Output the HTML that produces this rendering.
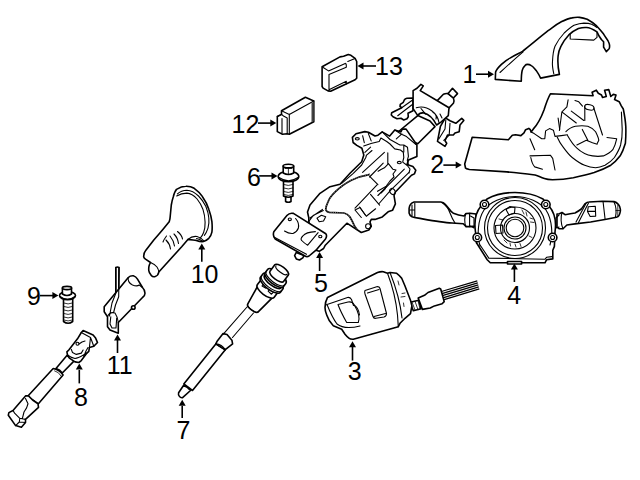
<!DOCTYPE html>
<html><head><meta charset="utf-8"><style>
html,body{margin:0;padding:0;background:#fff;width:640px;height:480px;overflow:hidden}
svg{position:absolute;left:0;top:0}
text{font-family:"Liberation Sans",sans-serif;font-size:25px;fill:#000}
.o{fill:#fff;stroke:#000;stroke-width:1.6;stroke-linejoin:round;stroke-linecap:round}
.l{fill:none;stroke:#000;stroke-width:1.1;stroke-linejoin:round;stroke-linecap:round}
.t{fill:none;stroke:#000;stroke-width:0.8;stroke-linecap:round}
.a{stroke:#000;stroke-width:1.6;fill:none}
</style></head><body>
<svg width="640" height="480" viewBox="0 0 640 480">

<!-- part 13 -->
<g id="p13">
<path class="o" d="M322.1 66.8L340 56.9L343.6 56.3L348.3 54.5L350.9 55.3L355.1 58.4L356.7 61.5V78.2L355.1 79.8L330.6 91.2L328 90.9L323.1 88.1L322.1 86.5Z"/>
<path class="l" d="M322.8 67.3L328.5 70.9L345.2 63.4Q346.6 63.8 346.3 65.5V67.3L329 74.6V90.7M347.8 61.5L355 58.6M329 89.7L346.3 81.3V84"/>
</g>
<!-- part 12 -->
<g id="p12">
<path class="o" d="M277.3 116.5L281.5 114.4V110.8L305.4 97.2L313.8 100.9V121.7L289.3 134.2L287.2 133.7L282.5 134.2L277.3 131.6Z"/>
<path class="l" d="M281.5 110.8L289.3 114.4L311.1 102.4L313.8 100.9M289.3 114.4V134.2M277.3 116.5L281.5 114.4L283.5 116L287.2 118V133.7M282 118.5V133"/>
<path d="M311.5 103L313.8 101.5V121.2L311.5 122.3Z" fill="#444"/>
</g>
<!-- bolt 6 -->
<g id="b6">
<path class="o" d="M285.6 196V201.5Q288.3 203 291 201.5V196Z"/>
<path class="o" d="M283.5 180H293V196Q288.3 198.5 283.5 196Z"/>
<path class="t" d="M283.5 184.5Q288.3 186.5 293 184.5M283.5 188Q288.3 190 293 188M283.5 191.5Q288.3 193.5 293 191.5M283.5 194.5Q288.3 196.5 293 194.5"/>
<ellipse class="o" cx="288.5" cy="176.5" rx="10.3" ry="5.2"/>
<path class="l" d="M279 177.5Q288.5 184 298 177.5"/>
<path class="o" d="M283.2 166V173Q288.4 176 293.7 173V166Z"/>
<ellipse class="o" cx="288.4" cy="166" rx="5.2" ry="1.8"/>
<path class="t" d="M285 168.5H292M288.4 168.5V174"/>
</g>
<!-- bolt 9 -->
<g id="b9">
<path class="o" d="M63.5 299H72.7V321.5Q68.1 325 63.5 321.5Z"/>
<path class="t" d="M63.5 303Q68.1 305 72.7 303M63.5 306.5Q68.1 308.5 72.7 306.5M63.5 310Q68.1 312 72.7 310M63.5 313.5Q68.1 315.5 72.7 313.5M63.5 317Q68.1 319 72.7 317M63.5 320Q68.1 322 72.7 320"/>
<ellipse class="o" cx="67.5" cy="295.6" rx="8" ry="4"/>
<path class="l" d="M60 296.5Q67.5 302 75 296.5"/>
<path class="o" d="M62.4 288V294Q67 297 71.5 294V288Z"/>
<ellipse class="o" cx="67" cy="288" rx="4.6" ry="1.6"/>
</g>

<!-- part 1 -->
<g id="p1">
<path class="o" d="M495.3 79.4L495.6 71.9C497 68 505 60.5 510 58.1C516 54.5 520 53 522.5 51.3C528 47 540 37 548.1 30.6C552 28 556 24.5 560.9 22C565 20 568 18.5 571.9 17.9C575 17.3 577 17.2 579.5 17.4C582 17.7 585 18.5 587.2 19.3C591 21.5 594 23.5 596 25.3C599 28.5 602 32 603.6 34.1C606 38 608 40.5 608.5 41.7C609.3 43.5 609.7 45 609.6 46.1C609.6 47.5 609.5 48.3 609.1 48.8L606.3 51.6L603.6 47.2V41.7L601.4 39.5L599.2 36.3L597 31.9C592 28.5 589 27.3 586.1 27.5C583 27.3 581 27.8 578.4 28.6C574 30.5 571 33 568.6 35.2C565 39 562.5 43 561 46.1C559.5 49 558.3 53 558.1 56C557.5 62 558 68 559.4 74.4L540.6 78.1C539 74.5 537.5 72.3 536.3 70.6C534 68 533 66.5 531.3 65.6C530 64.8 528.5 64.4 527.5 64.4C526.5 64.4 525.5 65 525 65.6C523.5 67 522.6 68.5 522.3 70C521.5 73 521.3 77 521.3 81.3Z"/>
<path class="l" d="M500 72.5C507 66 516 58 523.1 51.9"/>
<path class="l" d="M553.8 73.8C552.5 68 552.2 64 552.5 61.3C552.8 55 553.5 50 555 46.3C557.5 41 560.5 37 564.2 33C568 29.5 571 27 574 25.3C578 23.8 581 23.2 583.9 23.1C587 23.2 589.5 23.5 591.6 24.2C594 25.3 595.5 26.3 597 27.5"/>
<path class="l" d="M570.2 33.6V39L593.8 40.1L597 37.4V32.3"/>
</g>
<!-- part 2 -->
<g id="p2">
<path class="o" d="M472.2 137.2L508.4 139.8L512.3 135.2L515.5 134.7L520.9 135.6L524 132.8L525.6 129.7L528.8 128.4L530.3 129.7L531.1 132L533.4 128.9C537 125 541 118 544 110C546.5 102 548.5 97 550.4 93.8L593.1 95.8L592.1 92.3L596.3 90.2L598.3 93.3L601.5 95L602.5 97.5L606.3 96.5L604.6 90.2L608.8 89.6L610.8 96.5L613.3 94.4L616 95L614.6 99.6L619.2 101.7L621.3 105.8L623.3 109C624.5 115 625.5 121 625.8 126.7C626 132 625.8 138 625.4 143.3C624 148 622.5 152 620.2 155.8C617 160 614 163 610.8 165.2C605 168.5 600 170.5 594.2 172.5C587 174.8 580 176.3 573.3 177.7C566 179 559 179.6 552.5 179.8C548 179.8 546 179.2 544.4 178.6C540 177 537 175.5 535 175C520 173 512 172.3 506.9 171.9L469.4 169.5C467 169 465.8 168.5 465.5 168L464.7 164Z"/>
<path class="l" d="M531.1 132L534.2 133.6L541.7 138.8H544.8L545.6 130.9L549.5 128.6L553.4 130.2L555 136.4L561.3 135.6L567.5 134.8"/>
<path class="l" d="M530 138.8L534.7 149.7M530 155.9L550.3 155.2L552.7 158.3L555 170M530.8 157.5Q532 164 534.7 166.9L542.5 169.2"/>
<path class="l" d="M557.3 137.2C559 141 560.5 144 562.8 146.6C566 151 569 155 572.2 157.5C576 160.5 580 163.5 584.7 165.3C588 166.8 592 167.7 595.6 167.7C599 167.5 602 166.5 605 165.3C609 163 612 160.5 614.4 157.5C617 153.5 619.5 149 620.6 145C621.8 140 622.3 134 622.2 129.4L621.4 112"/>
<path class="l" d="M567.5 135.6C570 140 573 145 576.9 148.1C581 152 587 155 592.5 155.9C596 156.5 600 156.5 603.4 155.9C607 154.5 610.5 152.5 612.8 149.7C615 146 616 142 616.7 138.8L607 137.5"/>
<path class="l" d="M565.9 131.7C568.5 129 571.5 127 575.3 126.3C580 125.5 584 125.5 587.8 126.3C591 127.5 594 129.5 595.6 131.7C597 134.5 598.5 137.5 598.8 140.3L597.2 143.4"/>
<path class="l" d="M582.3 129.4L587.8 140.3M576.9 145L586.3 140.3L592.5 142.7L597.2 144.2"/>
<path class="l" d="M558.1 118L559.7 129.4M584.8 106V120.4M593.8 108L602.5 135"/>
<ellipse class="l" cx="589.3" cy="107.3" rx="4.8" ry="2.6" transform="rotate(15 589.3 107.3)"/>
<path class="l" d="M568.1 99.9L566.9 106.8L561.9 111.8L559.4 130.5M562.5 112.4L576.3 123M571.3 111.1L583.8 120.5M575 100.5L578.8 101.8L582.5 106.1"/>
</g>

<!-- part 4 -->
<g id="p4">
<!-- left stalk -->
<path class="o" d="M409.1 208.3C409.5 205 411.5 202.8 414.1 202H440.8C442.5 202.3 444 203 445 204.1C446.5 205.5 448 207.5 449.2 209C450.5 211 452 212.5 453.4 213.2C457 214.8 461 215.7 464 216L466 213.5L470 213.2L476 214L476 226L470.3 226.6L466.1 226.6L463.3 223.8L452 223C448 222.7 444 222.2 439.4 221.6C432 220.7 425 219.3 418.3 218.1C415.5 217.6 413.5 217.2 412 216.7C410.3 215.8 409.3 214.5 409.1 213.2Z"/>
<path class="l" d="M414.8 203V217.3M410 210H414.5M412 205V216M442 202.5C447 206 449 210 450 213C451.5 217 453 220 455 223M466.1 213.5C464.5 216 464 223 466.1 226.6M469.6 213.2V226.6"/>
<!-- right stalk -->
<path class="o" d="M557 214L559.4 213.8L562 212.5L565 214.7C569 213.8 572 213.3 575 213C578 211.5 580 210 581.3 209C583 207 584 205 585.2 203.6C586.5 202.5 588 202 589 202L602.3 201.3L614 201.6C615.8 202 617 203 617.6 203.6C619 205 619.8 206.5 620 207.5C620.4 209 620.5 210.5 620.3 211.4C620 213 619.8 214.5 619.1 215.3C618.5 216.3 617.5 217 616.4 217.3L606.3 219.2L590.6 222L575 223.9L566.9 225L563 228.8H559.4L557 227Z"/>
<path class="l" d="M614 202C616 206 616.5 212 615.5 217M603.1 202L605.1 219.2M586 203.6L576 222M588.5 203L578.5 222.5M562 212.8C560.5 217 560.8 224 563 228.8M588.3 206.7L595.3 206.3L595.7 216.1L590.2 216.5L587.5 211.4ZM588.5 211.4H595.5"/><path class="t" d="M616 210.5H620M617.8 205V216"/>
<!-- body -->
<path class="o" d="M476.7 243.3L475.5 232C474 222 476 212 481 206L487 199C496 194 505 192.5 515 192.5C525 192.5 535 194.5 543 199L549 206C555 213 556.5 222 555 232L554.4 246.4L552.8 250.3V258.9L546.6 259.7L545 262.8H490.3L487.2 259.7L476.3 242.5Z"/>
<path class="l" d="M480 246C477 236 477.5 220 484 210C490 202 502 196.5 515 196.5C528 196.5 540 202 546 210C552.5 220 553 236 550 245M479.4 244L488.8 258.1L545 259.2L546.6 257.3L552 256.6"/>
<circle class="l" cx="515" cy="228" r="30.5"/>
<circle class="l" cx="515" cy="228" r="27.5"/>
<circle class="l" cx="515" cy="228" r="21"/>
<circle class="l" cx="515" cy="228" r="14.5"/>
<circle class="l" cx="515" cy="228" r="11" fill="#fff"/>
<circle class="l" cx="515" cy="228" r="8.8"/>
<path class="l" d="M506 209.5L510 206.5L515 207.5L514.5 213L509 215Z"/>
<path class="l" d="M495.5 225.5L502.5 225L503 233L496 233.5Z"/>
<path class="t" d="M522 210L524 214M526 212L527 216M530 218L533 219M530.5 222L534 222.5M529 236L532 237.5M504 240L507 243M510 243L510.5 246M515 244L516 247M520 243.5L521 246.5M499 219L503 220"/>
<circle class="o" cx="484.5" cy="204.5" r="4.3"/><circle class="l" cx="484.5" cy="204.5" r="2"/>
<circle class="o" cx="545.8" cy="204.5" r="4.3"/><circle class="l" cx="545.8" cy="204.5" r="2"/>
<circle class="o" cx="477.3" cy="237.5" r="4.3"/><circle class="l" cx="477.3" cy="237.5" r="2"/>
<circle class="o" cx="552.6" cy="237.5" r="4.3"/><circle class="l" cx="552.6" cy="237.5" r="2"/>
<path class="l" d="M470.5 216L474 218V228L470.5 226M559 215L556 218V228L559 227"/>
<path class="o" d="M507.5 261.5H521.6V264H507.5Z"/>
</g>

<!-- part 3 -->
<g id="p3">
<path fill="none" stroke="#000" stroke-width="1.25" d="M441.4 291.5L477.3 280.8M441.9 293.6L477.8 282.8M442.4 295.7L478.3 284.8M442.9 297.8L478.8 286.8M443.4 299.9L479.3 288.8"/>
<path class="o" d="M410 302.3L418.9 300.2L421 308.7L413.3 310.8Z"/>
<path class="t" d="M412 302L415 310M415 301.2L418 309.8M418 300.5L420 309"/>
<path class="o" d="M418.2 298.1L424.5 295.3L428 292.5L439.3 288.3L440.7 289L444.2 301.6L442.1 303.8L434.4 305.9L430.2 308L422.4 309.4Z"/>
<path class="o" d="M327.5 297.5L377.5 272.5C379.5 271.8 381.5 271.5 383.3 271.7L387.5 273.3L390 272.5L396.7 273.3C399 275 400.5 276.5 401.7 278.3L404.8 285.5L410.5 300.2L411.9 305.9L410.5 313.6L405 318.3L400 323.3L398.3 326.7L353.3 339.2C351.5 339.3 350 338.9 349.2 338.3C347.5 337 346 335.5 345 334.2L341.7 329.2L333.3 325.8C330 322.5 328 319 326.7 315C325.5 312 325 310 325 307.5C325.2 303 326 300 327.5 297.5Z"/>
<path class="l" d="M387.5 273.3C392 285 396 300 397.5 315L398.3 326.7M390 272.5C395 285 400 300 402 318"/>
<path class="l" d="M325.5 305L333 302.5L347.5 297.5Q350 297 351.5 299.5L353.5 305.5M327 304.5C330 312 334 320 337 324C342 328 350 328.5 360 326"/>
<path class="l" d="M338 304.5L348 302C351 301.5 353 302.5 354 304.5C358 311 360 318 358.3 322.5L346.7 322.5C343 316 340 310 338 304.5Z"/>
<path class="l" d="M354 305C357.5 307 359 311 359.5 315"/>
<path class="l" d="M365 290.5L376.7 286.7C378.5 286.5 379.5 287 380 288.5L386.5 313.5C386.5 315 385.5 316.5 384 317L375.8 318.3C374.5 318.5 373.5 318 373 316.5L365 294C364.5 292.5 364.5 291.5 365 290.5Z"/>
<path class="l" d="M367.5 293L379 289.5M374 316.5L385.5 313.5"/>
<path class="t" d="M398 281L399 285M402 293.5L405 293M401 297L405 296.5M403.5 303L404 306.5"/>
</g>

<!-- part 5 -->
<g id="p5">
<path class="o" d="M398 132L417.8 115.6L430 121L435 126.6L417.8 143.8L405 138Z"/>
<!-- right bracket -->
<path class="o" d="M445.4 117.9L450 120.8L455.8 123.3L461.7 118.3L463.8 120.4L460 125L459.2 131.7L455 132.9L453.3 135H447.5L445 140.8L446.7 143.3L445 146.3L437.5 141.3L440.4 126.3Z"/>
<path class="l" d="M445.8 120L445 129L438.8 139M450 123.3L449.2 135L443.8 140.4"/>
<!-- left wing -->
<path class="o" d="M413 98L407 98.3Q405 98.8 404.3 100L403.3 102.3L400.3 104.3L400 106.3L401.7 107.7L391.7 112.7L391.3 115L393 116.7L397 118.7L401 118.3L403.7 120L407 118.7L408.3 116.7L408 113.3L413 110.7Z"/>
<path class="l" d="M401.7 107.7L413 99.7M397.7 115.7L412.7 104.3"/>
<!-- shaft top -->
<path class="o" d="M436.6 101.4L443.4 94.2Q445.5 93.3 448.1 93.6L453.4 98Q454.6 101 453.4 103.3L448.1 108.9L440 106Z"/>
<path class="o" d="M448.1 93.6L452.5 88.3L457.5 93.6L453.4 98Z"/>
<!-- plate -->
<path class="o" d="M413.1 90.6L417 88.3L420.9 84.4L423.3 85.9L420.2 90.6L437.3 100.8L449 107.8L448.3 115.6L441.3 121.9L436.6 125C433 118 428 114 424 113C421 112.5 419 113.5 417.8 115.6L413.1 108.6Z"/>
<path class="l" d="M416.3 107.8C422 106 428 108 432 111C436 114 438 117 439 122.5M421 108.5C423 111 424.5 113 425.5 114M433 112.5C435 113 437 116 436 119M440 114L442 118"/>
<!-- housing -->
<path class="o" d="M352.4 137.4L356 133.8L364.8 131.6L368.4 132.3L375 136L378 135.2L382.2 131.9L389.7 136.1L394.8 130L400.9 131.9L402.3 129.1H406.1L416.9 145V156.4L408.5 160L407 164.4L412.9 166.6L415.8 170.2L414.4 173.9L411.5 175.3L395.4 192L394 195.7L395.4 203.8L392.5 210.3L388.1 211.8L382.3 216.9L375 219.4H371.3L370 221.9L371.3 226.3L368.8 230L361.3 232.5L346.9 223.2L325.3 245.2L323.6 248.5L319.2 251.3L316 250.2L308.8 221.5L308.8 217.8L307.5 212L310 205L320 193.3L330 186.7L340 184.2L350 173.3L361.7 161.7L363.8 155L361.9 148.3L356.8 145.4L353.1 142.5Z"/>
<ellipse class="l" cx="357.3" cy="138.8" rx="2" ry="1.2"/>
<ellipse class="l" cx="399.3" cy="162.6" rx="2" ry="1.2"/>
<path class="l" d="M362.6 135.7L364.3 142.6M368.3 133.4L371.2 140.9M363.7 146L371 143.5L379.2 141.5L380.9 138L386.7 141.5L390 144L394.7 148.9L400.4 150L403.3 152.3L403.8 157.5L402.7 162.1L407.3 165.5L410 169L409 173"/>
<path class="l" d="M382.2 131.9L390 139.5L398.1 144L400 145H403.8L407.5 147.3L408.4 156.3L407.3 160.4L408.4 164.4M394.8 130L401 134L406.5 136.6L416 144.5M396.3 138.9L401.9 133.8M403.8 145V152"/>
<path class="l" d="M366.5 155L365.8 157.5L361.7 165L353.3 173.3L341.7 183.3M364.9 152.3L370.6 147.2M366.6 155.2L372 150.5"/>
<path class="l" d="M387.8 152.9V164.4L384.4 167.8L381 169.5L378.1 171.2M384.4 152.3L362.6 172.4M383.2 163.2L369.5 177M388.2 163.4L392.8 169.2L396 170L393 174L394 177L390 181L387 185L385 189L381 193"/>
<path class="l" d="M408.8 172.6L390.5 190.4L379.1 203.5M404.3 169.2L377.9 195.5M369.9 176.6L377.9 184.6M370.5 194.4L379.6 205.2M359.6 207L365.3 215M355 208.1L376.8 185.2"/>
<ellipse class="l" cx="392.5" cy="191.5" rx="2.5" ry="3.2" transform="rotate(-40 392.5 191.5)"/>
<path class="l" d="M355 210L360 207.5L366.3 216.3L375.6 208.8M355 210L361.3 217.5M377.5 191.3L386.3 186.3"/>

<circle class="l" cx="368.1" cy="226.3" r="2.5"/>
<path fill="none" stroke="#000" stroke-width="1.7" d="M370 174.4C364 175.5 357 177.5 351.3 180.2C346 183 340 187 335.2 191.9C331.5 195.5 329 199 327.9 202.1C326.5 205 325.8 207.5 325.7 209.4C326 211 327.5 212 329.4 212.3L344 213C346.5 213.5 348.5 215 349.8 216.7C351.5 219.5 353 222.5 354.2 225.4L357.1 229.8"/>
<path fill="none" stroke="#fff" stroke-width="0.5" stroke-dasharray="1 1.2" d="M370 174.4C364 175.5 357 177.5 351.3 180.2C346 183 340 187 335.2 191.9C331.5 195.5 329 199 327.9 202.1C326.5 205 325.8 207.5 325.7 209.4C326 211 327.5 212 329.4 212.3L344 213C346.5 213.5 348.5 215 349.8 216.7C351.5 219.5 353 222.5 354.2 225.4L357.1 229.8"/>
<path class="l" d="M308.8 221.5L313.1 215.6L323.3 210.5M310 218L322.5 209.4M317 218.1L321.4 215.2L325.7 216.7L323.5 221L319.2 221.8Z"/>
<!-- mounting plate -->
<path class="o" d="M296.3 252.4L294.6 255.6L296.3 258.9L299.5 260L302.8 257.8L304 255.6Z"/>
<path class="o" d="M273.8 231.7L286.9 215.6Q289.5 212.5 293.4 213.4L325.8 233.8Q327.5 236 325.3 239.2L316 250.2L309 256Q307 257.3 305 256L275.2 239Q272.5 236 273.8 231.7Z"/>
<path class="l" d="M274.8 237.5L306.5 254.3"/>
<ellipse class="l" cx="289.8" cy="219.3" rx="1.6" ry="1.3"/>
<ellipse class="l" cx="320.3" cy="236.5" rx="1.6" ry="1.3"/>
<path class="l" d="M295.6 218.5Q299.5 223 298.4 228Q297 232 293 233.5Q289 234 284.5 231M315.4 231.6Q306 232 302.8 236Q300 239 301.7 240.5Q304 243 307.7 245.2L318.1 232.7"/>
</g>

<!-- part 10 boot -->
<g id="p10">
<path class="o" d="M176.5 189.4C180 187.2 183 186.3 185.8 186.3C189 186.2 192 187 194.2 188.3C198 191 200.5 193.5 202.5 196.7C205.5 201 207.5 205 208.8 209.2C210.5 214 211.5 218 211.9 221.7C212.3 226 212.3 229 211.9 232.1C211.3 235 210 237 208.8 238.3C207 240 205 241 203.5 241.5C201 241.8 198.5 241.2 196.3 240.4C193 240 190 239.5 187.9 239.4L181.7 246.7L158.8 272C158.5 274 157 276 154.7 276.7C153 277 152 276.3 151.3 275.4C149.8 273.5 148.8 272 148.8 270.8C148.6 268.5 148.8 266.5 149.3 265L150.5 262.5L145.5 259.2C144 258 143.5 256.5 143.8 255.8C143.8 253.5 144.5 252 145.5 250.8L153.8 240L158.8 234.2C163 229.5 166.5 225 169.2 221.7C170 219 170.2 217 170.2 216.5C170.6 212 171 208 171.3 205C172 201 172.5 199 173.3 196.7C174.3 193 175 191 176.5 189.4Z"/>
<path class="l" d="M177.4 193.9C180 191.5 183.5 190.3 186.9 190.2C191 190.3 195 192.5 198.5 196C201.5 199 204 202.5 205.8 206.3C207.3 210 208.5 214 208.8 217.9C209.2 221.5 208.8 225 208 228.1C207 231 206 233.5 204.4 235.4"/>
<path class="l" d="M176.7 196C180 194 183.5 193.2 186.9 193.1C190.5 193.3 194 195.5 197.1 199C199.5 202 201.5 205.5 202.9 209.2C204.3 213.5 205 218 205.1 222.3C205.2 226 204.8 229.5 203.6 232.5C202.8 234.8 201.5 236.8 200 238.3"/>
<path class="l" d="M187.9 239.4C191 236.8 194 236 197 236.5C200 237.3 202 238.5 203.5 240.5M196.5 238.5C199 239 201 240 202.5 241.2"/>
<path class="l" d="M150.5 262.5C153 263.5 155.5 265 157 267C158 268.5 158.6 270 158.8 272"/>
<path class="l" d="M166 240C168 242 170 245 170.5 249M170 236C172 238.5 174 242 174.5 246M174 234C176.5 236.5 178 240 178.5 243.5M166.5 236C165 238 163.5 240 163 242M177.5 231.5C180 233.5 182 236 182.5 239"/>
</g>
<path fill="#000" d="M201.8 243.5l-3.5 6h7z"/>
<!-- part 11 -->
<g id="p11">
<path class="o" d="M115.8 267.5Q117.4 266.5 119 267.5L118.7 296.7L113.5 313H109.5L112 303L115.8 293.3Z"/>
<path class="o" d="M128.3 277.5C129.5 276.3 131.3 275.7 133.3 275.8C135 276.3 136.5 277.5 137.5 279.2L142.5 287.5C144 289 145 291 145 293.3C145 295 144 296.5 142.5 297.5L118.3 322.5L118.3 333.3L110 330L107.5 326.7V316.7L104.2 311.7V306.7Z"/>
<path class="l" d="M128.3 277.5C127.5 280 129 283.5 132.5 285C135 286 138 286 139.2 285L142.5 287.5"/>
<path class="l" d="M115.8 267.5L115.8 293.3L112 303L109.5 316M119 267.5L118.7 296.7L115.5 305L113.5 313M107.5 316.7C109 313 112 312 115 313C117 316 118 319 118.3 322.5"/>
<path class="l" d="M110.8 316.7L110 324L112 328H116L116.7 318"/>
<circle class="o" cx="133.3" cy="307.5" r="1.8"/>
</g>
<!-- part 8 -->
<g id="p8">
<path class="o" d="M27.5 396.5L53.2 368.5Q59 369.5 63.1 375L38.2 404Z"/>
<path class="o" d="M56 368.5L66.9 355.6L74.4 360.6L62.3 373Q60 369.5 56 368.5Z"/>
<path class="t" d="M54.6 370.8Q58.5 371.5 61.5 376.5"/>
<path class="o" d="M25.5 395.9H28.6Q32 400 38 403.8L38.5 407.4L25.5 419.4V422.5L21.4 427.2L15.6 425.6L8.3 415.2L8.9 412.6L13 410.5Z"/>
<path class="l" d="M13 410.5L14.6 413.1L19.8 418.3L25.5 419.4M19.8 418.3L19.3 422L15.6 425.6M19.3 422L25.5 422.5M25.5 398.5L28 403.8L26.6 407.9L24 412L22.4 418.3"/>
<path class="o" d="M77.5 338.8L81.3 332.5L83.1 330.6L93.1 335L95.6 338.1L97.5 342.5L93.8 346.3L89.4 347.5L88.8 351.3L86.9 353.1L81.3 360.6L78.8 362.5L75 361.9L69.4 358.1L67.5 355L66.9 351.9L68.8 350Z"/>
<path class="l" d="M81.3 332.5L90.5 337.5L93.8 346.3M90.5 337.5L89.4 347.5M67.5 355C70 357 73 358 75 358.5C79 358 83 355 86.9 353.1M71.3 349.4L72.5 352.5L76.3 354.4L81.3 353.1L83.1 350M83.8 356.3L86 351L88 347.5M79 344L82 342L85 341"/>
<circle class="l" cx="77.5" cy="343.8" r="1.5"/>
</g>
<!-- part 7 -->
<g id="p7">
<path class="o" d="M215.8 343.9L225.3 349.7L192.5 390.5L183.8 384Z"/>
<path class="o" d="M183.5 385.5L178.6 392.7Q178 395.5 179.4 396.4Q180.5 398 182.3 397.8L190.5 390.5Q187.5 386.5 183.5 385.5Z"/>
<path class="o" d="M215.8 343.9L217.3 340.9L223.1 333.6L227 334.5L231.9 340.2L232.6 343.9L225.3 349.7Z"/>
<path class="l" d="M215.8 343.9Q222 344.5 225.3 349.7"/>
<path class="l" d="M223.3 334.2L247 307M232.5 337.5L253.5 313"/>
<g transform="translate(253 307.9) rotate(-53)">
<path class="o" d="M0 -6.5L21 -9.5A3.6 9.5 0 0 1 21 9.5L0 6.5A2.5 6.5 0 0 1 0 -6.5Z"/>
<path class="l" d="M0 -6.5A2.5 6.5 0 0 0 0 6.5"/>
<path class="o" d="M21 -10.5L29 -10.5A3.99 10.5 0 0 1 29 10.5L21 10.5A3.99 10.5 0 0 1 21 -10.5Z"/>
<path class="l" d="M23 -6L27 -6.5L27.5 -2L23.5 -1.5ZM22.5 2L26.5 2.5L26 7L22 6.5Z"/>
<path class="o" d="M29 -12.5L33 -12.5A4.75 12.5 0 0 1 33 12.5L29 12.5A4.75 12.5 0 0 1 29 -12.5Z"/>
<path class="l" d="M30.5 -12.3A4.5 12.3 0 0 0 30.5 12.3"/>
<path class="o" d="M33 -10.5L35.5 -10.5A3.99 10.5 0 0 1 35.5 10.5L33 10.5A3.99 10.5 0 0 1 33 -10.5Z"/>
<path class="o" d="M35.5 -11.5L39.5 -11.5A4.37 11.5 0 0 1 39.5 11.5L35.5 11.5A4.37 11.5 0 0 1 35.5 -11.5Z"/>
<path class="l" d="M37 -11.3A4.2 11.3 0 0 0 37 11.3"/>
<path class="o" d="M39.5 -8.5L47.5 -8.5A3.23 8.5 0 0 1 47.5 8.5L39.5 8.5A3.23 8.5 0 0 1 39.5 -8.5Z"/>
<path class="l" d="M47.5 -7A2.6 7 0 0 0 47.5 7"/>
</g>
</g>
<!-- labels -->
<text x="462.5" y="82.6">1</text>
<text x="430.2" y="173">2</text>
<text x="347.8" y="380.3">3</text>
<text x="507.3" y="303.7">4</text>
<text x="314" y="291.5">5</text>
<text x="247" y="186">6</text>
<text x="176.5" y="439">7</text>
<text x="74" y="405.5">8</text>
<text x="27" y="305">9</text>
<text x="190.7" y="283.3">10</text>
<text x="106.7" y="373.7">11</text>
<text x="231.6" y="133">12</text>
<text x="375" y="74.7">13</text>
<!-- arrows -->
<g class="a">
<path d="M476 74.2H489"/><path d="M443.4 165.1H456"/><path d="M352.5 360.6V347"/>
<path d="M514.4 282V269"/><path d="M319.6 271V258"/><path d="M259.2 175.9H272"/>
<path d="M182.2 418V406"/><path d="M79.3 383.4V370"/><path d="M40 295.6H53"/>
<path d="M117.5 353V340"/><path d="M258 123.1H271"/><path d="M376 66H363"/>
<path d="M201.8 261.7V248"/>
</g>
<g fill="#000">
<path d="M494 74.2l-6-3.5v7z"/><path d="M461.7 165.1l-6-3.5v7z"/><path d="M352.5 341.3l-3.5 6h7z"/>
<path d="M514.4 263.6l-3.5 6h7z"/><path d="M319.6 251.9l-3.5 6h7z"/><path d="M277.5 175.9l-6-3.5v7z"/>
<path d="M182.2 399.7l-3.5 6h7z"/><path d="M79.3 363.6l-3.5 6h7z"/><path d="M58.4 295.6l-6-3.5v7z"/>
<path d="M117.5 334.4l-3.5 6h7z"/><path d="M276.3 123.1l-6-3.5v7z"/><path d="M357.5 66l6-3.5v7z"/>
</g>
</svg>
</body></html>
